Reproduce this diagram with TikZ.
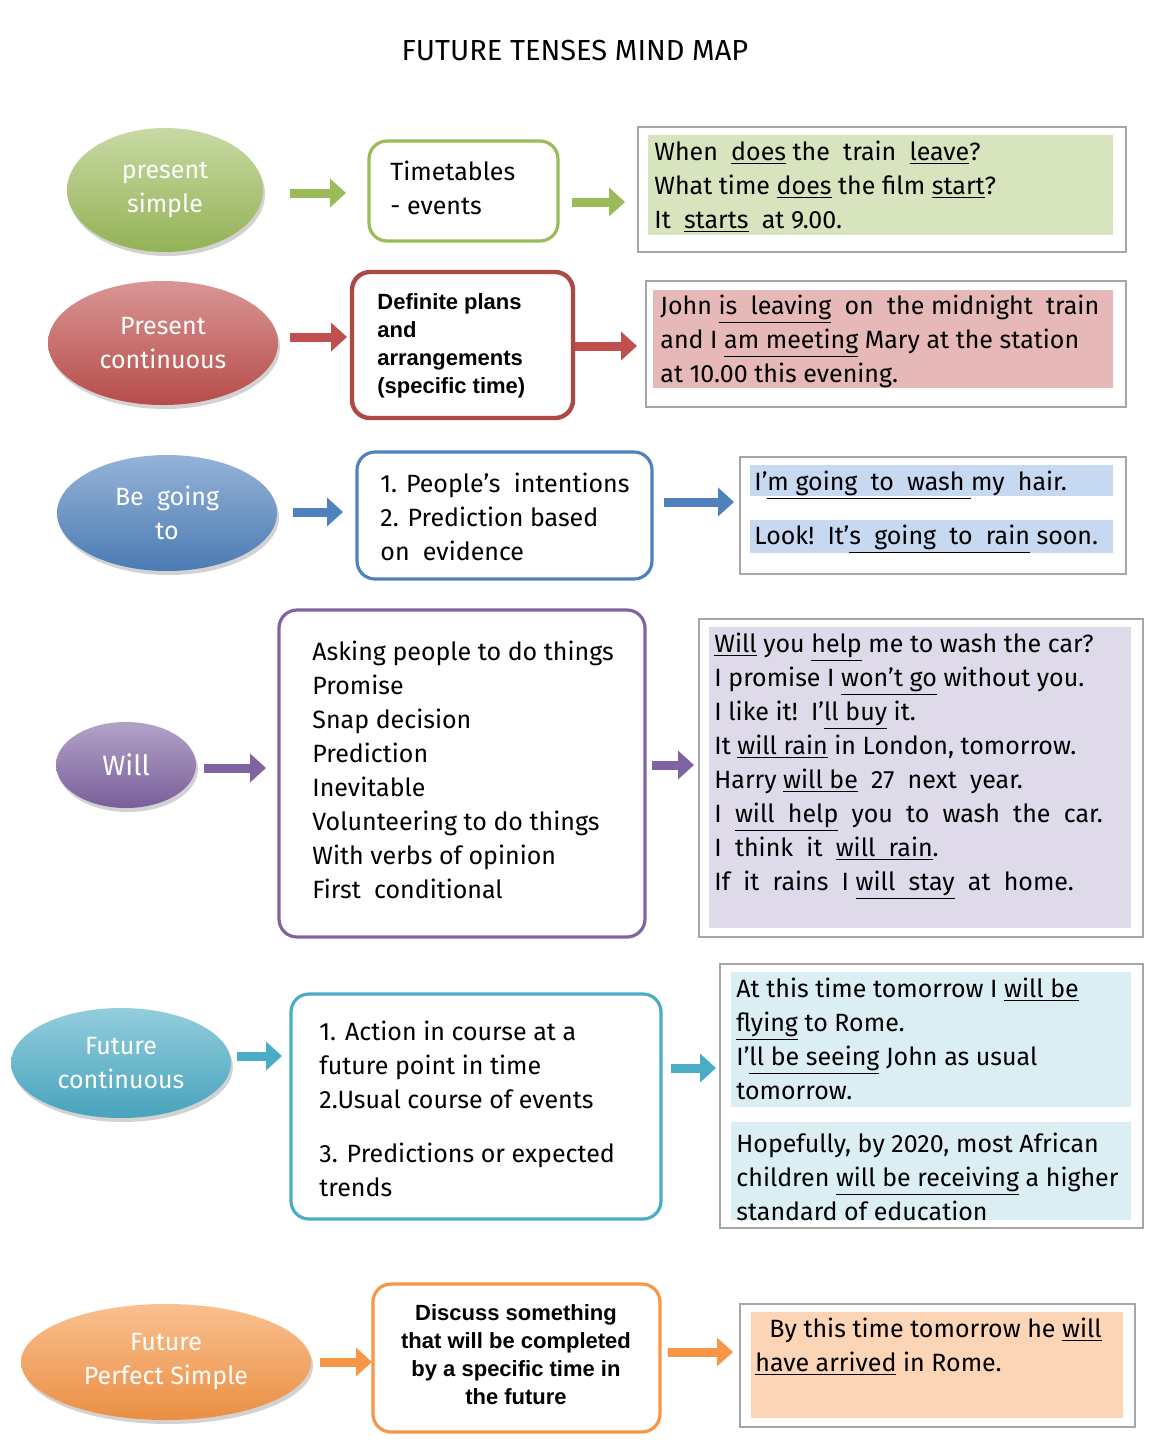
\documentclass[tikz,border=0pt]{standalone}
\usepackage{fontspec}
\setmainfont{Fira Sans}
\newfontfamily\arialb{Liberation Sans}
\usetikzlibrary{arrows.meta,shadows,shapes.geometric}
\definecolor{cg}{HTML}{9BBB59}\definecolor{cr}{HTML}{C0504D}\definecolor{cb}{HTML}{4F81BD}
\definecolor{cp}{HTML}{8064A2}\definecolor{ct}{HTML}{4BACC6}\definecolor{co}{HTML}{F79646}
\definecolor{fg}{HTML}{D7E4BD}\definecolor{fr}{HTML}{E6B9B8}\definecolor{fb}{HTML}{C6D9F1}
\definecolor{fp}{HTML}{DEDAEA}\definecolor{ft}{HTML}{DBEEF4}\definecolor{fo}{HTML}{FBD5B5}
\begin{document}
\begin{tikzpicture}[x=0.5pt,y=-0.5pt,
  ell/.style={ellipse,draw=none,text=white,align=center,font=\fontsize{12.5}{17}\selectfont,drop shadow={opacity=0.35,shadow xshift=1pt,shadow yshift=-2pt}},
  mid/.style={draw=#1,line width=1.6pt,rounded corners=9pt},
  frm/.style={draw=gray!70,line width=0.8pt},
  arr/.style={draw=#1,line width=4.5pt,-{Triangle[length=8pt,width=14pt]}},
  t/.style={anchor=base west,inner sep=0,font=\fontsize{12.5}{17}\selectfont},
  b/.style={anchor=base west,inner sep=0,font=\arialb\bfseries\fontsize{11}{14}\selectfont}]
\useasboundingbox (0,0) rectangle (1170,1448);
\fill[white] (0,0) rectangle (1170,1448);
\node[font=\fontsize{14.5}{18}\selectfont] (title) at (575,50) {FUTURE TENSES MIND MAP};
% ellipses
\node[ell,minimum width=98pt,minimum height=62pt,top color=cg!55,bottom color=cg!95!black] (e1) at (165,190) {present\\simple};
\node[ell,minimum width=115pt,minimum height=62pt,top color=cr!60,bottom color=cr!95!black] (e2) at (163,343) {Present\\continuous};
\node[ell,minimum width=110pt,minimum height=58pt,top color=cb!60,bottom color=cb!95!black] (e3) at (167,513) {Be\ \ going\\to};
\node[ell,minimum width=70pt,minimum height=43pt,top color=cp!60,bottom color=cp!95!black,font=\fontsize{14}{17}\selectfont] (e4) at (126,765) {Will};
\node[ell,minimum width=110pt,minimum height=55pt,top color=ct!60,bottom color=ct!95!black] (e5) at (121,1063) {Future\\continuous};
\node[ell,minimum width=145pt,minimum height=58pt,top color=co!60,bottom color=co!95!black] (e6) at (166,1362) {Future\\Perfect Simple};
% middle boxes
\draw[mid=cg] (369,141) rectangle (558,241);
\draw[mid=cr!90!black,line width=2.2pt] (352,272) rectangle (573,418);
\draw[mid=cb] (357,452) rectangle (652,579);
\draw[mid=cp] (279,610) rectangle (645,937);
\draw[mid=ct] (291,994) rectangle (661,1219);
\draw[mid=co] (373,1284) rectangle (660,1432);
% arrow anchor coordinates
\coordinate (a1s) at (290,193); \coordinate (a1e) at (346,193);
\coordinate (a2s) at (572,202); \coordinate (a2e) at (625,202);
\coordinate (a3s) at (290,337); \coordinate (a3e) at (347,337);
\coordinate (a4s) at (575,346); \coordinate (a4e) at (637,346);
\coordinate (a5s) at (293,512); \coordinate (a5e) at (343,512);
\coordinate (a6s) at (664,502); \coordinate (a6e) at (734,502);
\coordinate (a7s) at (204,768); \coordinate (a7e) at (266,768);
\coordinate (a8s) at (652,765); \coordinate (a8e) at (694,765);
\coordinate (a9s) at (237,1056); \coordinate (a9e) at (282,1056);
\coordinate (a10s) at (671,1068); \coordinate (a10e) at (716,1068);
\coordinate (a11s) at (320,1362); \coordinate (a11e) at (372,1362);
\coordinate (a12s) at (668,1352); \coordinate (a12e) at (733,1352);
% right frames
\draw[frm] (638,127) rectangle (1126,252); \fill[fg] (648,135) rectangle (1113,235);
\draw[frm] (646,281) rectangle (1126,407); \fill[fr] (653,290) rectangle (1113,388);
\draw[frm] (740,457) rectangle (1126,574); \fill[fb] (750,465) rectangle (1113,496); \fill[fb] (750,520) rectangle (1113,553);
\draw[frm] (699,619) rectangle (1143,937); \fill[fp] (709,627) rectangle (1131,928);
\draw[frm] (720,964) rectangle (1143,1228); \fill[ft] (731,972) rectangle (1131,1107); \fill[ft] (731,1122) rectangle (1131,1220);
\draw[frm] (740,1304) rectangle (1135,1427); \fill[fo] (751,1312) rectangle (1123,1418);
% arrows
\draw[arr=cg] (a1s) -- (a1e);
\draw[arr=cg] (a2s) -- (a2e);
\draw[arr=cr] (a3s) -- (a3e);
\draw[arr=cr] (a4s) -- (a4e);
\draw[arr=cb] (a5s) -- (a5e);
\draw[arr=cb] (a6s) -- (a6e);
\draw[arr=cp] (a7s) -- (a7e);
\draw[arr=cp] (a8s) -- (a8e);
\draw[arr=ct] (a9s) -- (a9e);
\draw[arr=ct] (a10s) -- (a10e);
\draw[arr=co] (a11s) -- (a11e);
\draw[arr=co] (a12s) -- (a12e);
% middle texts
\node[t] (a1) at (390,180) {Timetables};
\node[t] (a2) at (390,214) {- events};
\node[b] (b1) at (377,309) {Definite plans};
\node[b] (b2) at (377,337) {and};
\node[b] (b3) at (377,365) {arrangements};
\node[b] (b4) at (377,393) {(specific time)};
\node[t] (c1) at (380,492) {1. People’s\ \ intentions};
\node[t] (c2) at (380,526) {2. Prediction based};
\node[t] (c3) at (380,560) {on\ \ evidence};
\node[t] (d1) at (312,660) {Asking people to do things};
\node[t] (d2) at (312,694) {Promise};
\node[t] (d3) at (312,728) {Snap decision};
\node[t] (d4) at (312,762) {Prediction};
\node[t] (d5) at (312,796) {Inevitable};
\node[t] (d6) at (312,830) {Volunteering to do things};
\node[t] (d7) at (312,864) {With verbs of opinion};
\node[t] (d8) at (312,898) {First\ \ conditional};
\node[t] (f1) at (319,1040) {1. Action in course at a};
\node[t] (f2) at (319,1074) {future point in time};
\node[t] (f3) at (319,1108) {2.Usual course of events};
\node[t] (f4) at (319,1162) {3. Predictions or expected};
\node[t] (f5) at (319,1196) {trends};
\node[b,anchor=base] (g1) at (516,1320) {Discuss something};
\node[b,anchor=base] (g2) at (516,1348) {that will be completed};
\node[b,anchor=base] (g3) at (516,1376) {by a specific time in};
\node[b,anchor=base] (g4) at (516,1404) {the future};
% right texts
\node[t] (p1) at (654,160) {When\ \ \underline{does} the\ \ train\ \ \underline{leave}?};
\node[t] (p2) at (654,194) {What time \underline{does} the film \underline{start}?};
\node[t] (p3) at (654,228) {It\ \ \underline{starts}\ \ at 9.00.};
\node[t] (q1) at (660,314) {John \underline{is\ \ leaving}\ \ on\ \ the midnight\ \ train};
\node[t] (q2) at (660,348) {and I \underline{am meeting} Mary at the station};
\node[t] (q3) at (660,382) {at 10.00 this evening.};
\node[t] (s1) at (754,490) {I’\underline{m going\ \ to\ \ wash\ }my\ \ hair.};
\node[t] (s2) at (754,544) {Look!\ \ It’\underline{s\ \ going\ \ to\ \ rain} soon.};
\node[t] (w1) at (714,652) {\underline{Will} you \underline{help} me to wash the car?};
\node[t] (w2) at (714,686) {I promise I \underline{won’t go} without you.};
\node[t] (w3) at (714,720) {I like it!\ \ I’\underline{ll buy} it.};
\node[t] (w4) at (714,754) {It \underline{will rain} in London, tomorrow.};
\node[t] (w5) at (714,788) {Harry \underline{will be}\ \ 27\ \ next\ \ year.};
\node[t] (w6) at (714,822) {I\ \ \underline{will\ \ help}\ \ you\ \ to\ \ wash\ \ the\ \ car.};
\node[t] (w7) at (714,856) {I\ \ think\ \ it\ \ \underline{will\ \ rain}.};
\node[t] (w8) at (714,890) {If\ \ it\ \ rains\ \ I \underline{will\ \ stay}\ \ at\ \ home.};
\node[t] (v1) at (736,997) {At this time tomorrow I \underline{will be}};
\node[t] (v2) at (736,1031) {\underline{flying} to Rome.};
\node[t] (v3) at (736,1065) {I’\underline{ll be seeing} John as usual};
\node[t] (v4) at (736,1099) {tomorrow.};
\node[t] (v5) at (736,1152) {Hopefully, by 2020, most African};
\node[t] (v6) at (736,1186) {children \underline{will be receiving} a higher};
\node[t] (v7) at (736,1220) {standard of education};
\node[t] (o1) at (769,1337) {By this time tomorrow he \underline{will}};
\node[t] (o2) at (755,1371) {\underline{have arrived} in Rome.};
\end{tikzpicture}
\end{document}
